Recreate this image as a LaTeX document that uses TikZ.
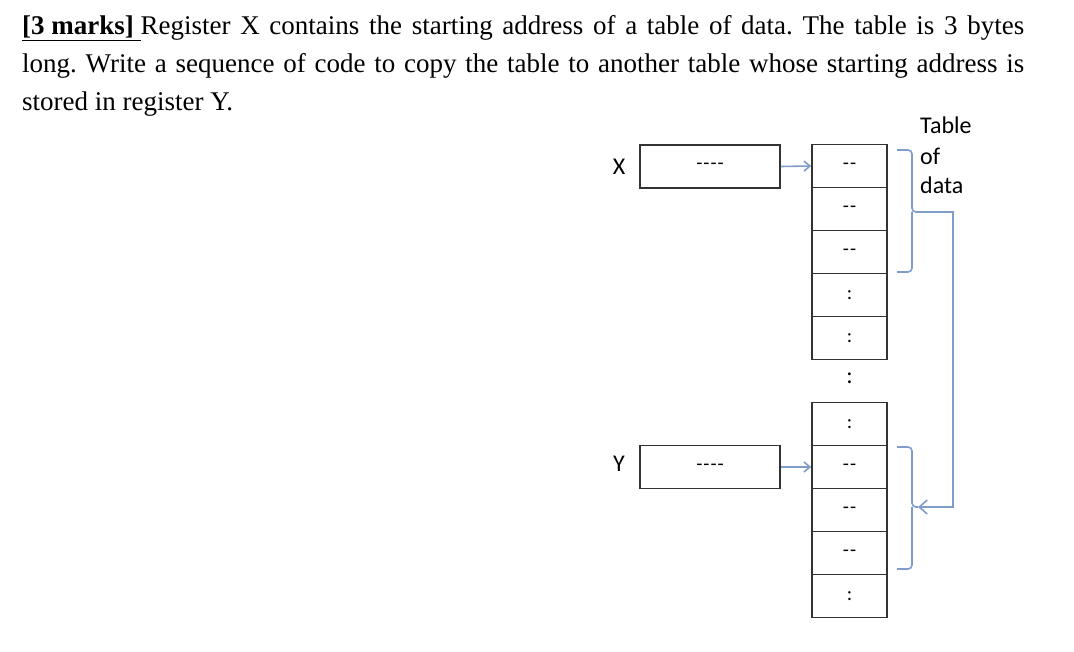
\documentclass[tikz,border=0pt]{standalone}
\usepackage{fontspec}
\setmainfont{Liberation Serif}
\newfontfamily\calfnt{Carlito}
\usetikzlibrary{arrows.meta}
\definecolor{steel}{HTML}{7F9CCB}
\begin{document}
\frenchspacing
\begin{tikzpicture}[x=1pt,y=-1pt,
  cell/.style={draw=black!80,line width=1.6pt,minimum width=75pt,minimum height=43pt,inner sep=0pt,font=\calfnt\fontsize{20}{20}\selectfont},
  reg/.style={draw=black!80,line width=1.6pt,minimum width=140pt,minimum height=43pt,inner sep=0pt,font=\calfnt\fontsize{20}{20}\selectfont},
  lbl/.style={font=\calfnt\fontsize{24}{24}\selectfont,inner sep=0pt},
  blue/.style={draw=steel,line width=1.6pt},
  txt/.style={anchor=base west,inner sep=0pt,font=\fontsize{27}{27}\selectfont}]
\useasboundingbox (0,0) rectangle (1074,652);
\node[txt] (l1) at (22,35) {\makebox[1002pt][s]{\underline{\textbf{[3 marks]}\ }Register X contains the starting address of a table of data. The table is 3 bytes}};
\node[txt] (l2) at (22,73) {\makebox[1002pt][s]{long. Write a sequence of code to copy the table to another table whose starting address is}};
\node[txt] (l3) at (22,111) {stored in register Y.};
% registers
\node[reg] (rx) at (710,166.5) {\raisebox{-4pt}{-\kern1pt-\kern1pt-\kern1pt-}};
\node[reg] (ry) at (710,467) {\raisebox{-4pt}{-\kern1pt-\kern1pt-\kern1pt-}};
\node[lbl] (lx) at (619,167) {X};
\node[lbl] (ly) at (619,464) {Y};
% cells
\foreach \n/\y/\t in {c1/166/d,c2/209/d,c3/252/d,c4/295/c,c5/338/c,d1/424/c,d2/467/d,d3/510/d,d4/553/d,d5/596/c}
  \node[cell] (\n) at (849.5,\y) {\if d\t\raisebox{-4pt}{-\kern1pt-}\else :\fi};
\node[lbl] (dots) at (849.5,378) {:};
\draw[blue,-{Straight Barb[length=6pt,width=10pt]}] (rx.east) -- (c1.west);
\draw[blue,-{Straight Barb[length=6pt,width=10pt]}] (ry.east) -- (d2.west);
% braces
\coordinate (bt) at (918,212);
\coordinate (bb) at (918,507);
\draw[blue,rounded corners=4pt] (897,150) -- (912,150) -- (912,212) -- (bt) (912,212) -- (912,272) -- (897,272);
\draw[blue,rounded corners=4pt] (897,447) -- (912,447) -- (912,507) -- (bb) (912,507) -- (912,569) -- (897,569);
\draw[blue,-{Straight Barb[length=8pt,width=14pt]}] (bt) -- (953,212) -- (953,507) -- (bb);
\node[lbl,anchor=base west] (t1) at (920,134) {Table};
\node[lbl,anchor=base west] (t2) at (920,165) {of};
\node[lbl,anchor=base west] (t3) at (920,194) {data};
\end{tikzpicture}
\end{document}
